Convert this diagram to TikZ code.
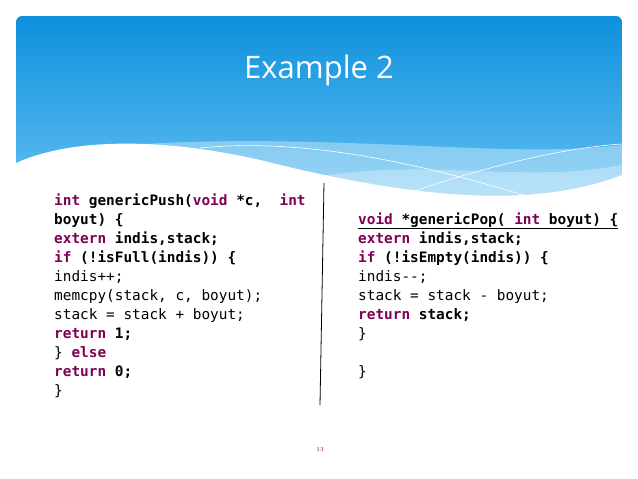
\documentclass[tikz,border=0pt]{standalone}
\usepackage{fontspec}
\setmonofont{DejaVu Sans Mono}
\newfontfamily\titlefont{Open Sans}
\definecolor{kw}{HTML}{7F0055}
\definecolor{htop}{HTML}{0E90DC}
\definecolor{hbot}{HTML}{62C0F2}
\begin{document}
\begin{tikzpicture}[x=1pt,y=-1pt,
  code/.style={anchor=base west,inner sep=0pt,font=\ttfamily\fontsize{14.4}{16}\selectfont}]
\useasboundingbox (0,0) rectangle (638,479);
\fill[white] (0,0) rectangle (638,479);
% header
\begin{scope}
\clip[rounded corners=6] (16,16) rectangle (622,220);
\shade[top color=htop,bottom color=hbot] (16,16) rectangle (622,200);
\fill[white,opacity=0.35] (110,146) .. controls (330,130) and (500,160) .. (622,145) -- (622,200) -- (110,200) -- cycle;
\fill[white,opacity=0.3] (300,180) .. controls (420,155) and (520,185) .. (622,165) -- (622,200) -- (300,200) -- cycle;
\fill[white] (10,166) .. controls (60,140) and (150,135) .. (260,160) .. controls (380,190) and (520,215) .. (622,175) -- (640,175) -- (640,230) -- (10,230) -- cycle;
\draw[white,line width=0.6] (200,148) .. controls (300,138) and (420,160) .. (570,210);
\draw[white,line width=0.6] (390,200) .. controls (470,170) and (560,148) .. (622,144);
\end{scope}
\node[font=\titlefont\fontsize{31}{34}\selectfont,text=white] (title) at (319,70) {Example 2};
% left code
\node[code] (l1) at (54,205) {\textcolor{kw}{\bfseries int} \textbf{genericPush(}\textcolor{kw}{\bfseries void} \textbf{*c,\ \ }\textcolor{kw}{\bfseries int}};
\node[code] (l2) at (54,224) {\textbf{boyut) \{}};
\node[code] (l3) at (54,243) {\textcolor{kw}{\bfseries extern} \textbf{indis,stack;}};
\node[code] (l4) at (54,262) {\textcolor{kw}{\bfseries if} \textbf{(!isFull(indis)) \{}};
\node[code] (l5) at (54,281) {indis++;};
\node[code] (l6) at (54,300) {memcpy(stack, c, boyut);};
\node[code] (l7) at (54,319) {stack = stack + boyut;};
\node[code] (l8) at (54,338) {\textcolor{kw}{\bfseries return} \textbf{1;}};
\node[code] (l9) at (54,357) {\} \textcolor{kw}{\bfseries else}};
\node[code] (l10) at (54,376) {\textcolor{kw}{\bfseries return} \textbf{0;}};
\node[code] (l11) at (54,395) {\}};
% right code
\node[code] (r1) at (358,224) {\underline{\textcolor{kw}{\bfseries void}\textbf{ *genericPop( }\textcolor{kw}{\bfseries int}\textbf{ boyut) \{}}};
\node[code] (r2) at (358,243) {\textcolor{kw}{\bfseries extern} \textbf{indis,stack;}};
\node[code] (r3) at (358,262) {\textcolor{kw}{\bfseries if} \textbf{(!isEmpty(indis)) \{}};
\node[code] (r4) at (358,281) {indis--;};
\node[code] (r5) at (358,300) {stack = stack - boyut;};
\node[code] (r6) at (358,319) {\textcolor{kw}{\bfseries return} \textbf{stack;}};
\node[code] (r7) at (358,338) {\}};
\node[code] (r8) at (358,376) {\}};
% divider
\coordinate (dtop) at (324,183);
\coordinate (dbot) at (320,405);
\draw[line width=0.8] (dtop) -- (dbot);
\node[font=\fontsize{6}{7}\selectfont,text=kw] (pg) at (320,450) {13};
\end{tikzpicture}
\end{document}
